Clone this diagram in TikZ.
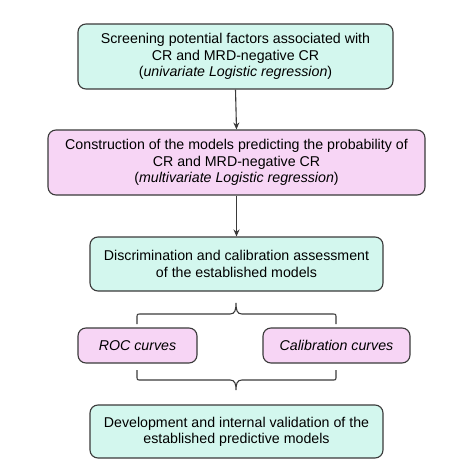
\documentclass[tikz,border=0pt]{standalone}
\usepackage{fontspec}
\setmainfont{Liberation Sans}
\usetikzlibrary{arrows.meta}
\definecolor{mint}{HTML}{D3F7EE}
\definecolor{pinkish}{HTML}{F7D5F5}
\definecolor{edge}{HTML}{3A3A3A}
\begin{document}
\begin{tikzpicture}[x=1pt,y=-1pt,
  boxstyle/.style={draw=edge,line width=1.1pt,rounded corners=8pt,align=center,inner sep=0pt,font=\fontsize{14.2}{16.2}\selectfont},
  mintbox/.style={boxstyle,fill=mint},
  pinkbox/.style={boxstyle,fill=pinkish},
  conn/.style={draw=edge,line width=1.1pt,-{Stealth[length=7pt,width=6pt]}},
  bracestyle/.style={draw=edge,line width=1.1pt}]
\useasboundingbox (0,0) rectangle (474,474);
\node[mintbox,minimum width=315pt,minimum height=65pt] (b1) at (235.5,56.5)
  {Screening potential factors associated with\\CR and MRD-negative CR\\(\textit{univariate Logistic regression})};
\node[pinkbox,minimum width=377pt,minimum height=65pt] (b2) at (236.5,162.5)
  {Construction of the models predicting the probability of\\CR and MRD-negative CR\\(\textit{multivariate Logistic regression})};
\node[mintbox,minimum width=293pt,minimum height=54pt] (b3) at (236.5,264)
  {Discrimination and calibration assessment\\of the established models};
\node[pinkbox,minimum width=119pt,minimum height=35pt] (roc) at (137.5,345.5)
  {\textit{ROC curves}};
\node[pinkbox,minimum width=147pt,minimum height=35pt] (cal) at (336.5,345.5)
  {\textit{Calibration curves}};
\node[mintbox,minimum width=293pt,minimum height=53pt] (b5) at (236.5,431.5)
  {Development and internal validation of the\\established predictive models};
\draw[conn] (b1.south) -- (b2.north);
\draw[conn] (b2.south) -- (b3.north);
% top brace
\coordinate (t0) at (236,303);
\draw[bracestyle] (137,324) -- (137,318) .. controls (137,314) .. (141,314)
  -- (230,314) .. controls (235,314) and (236,310) .. (t0)
  .. controls (236,310) and (237,314) .. (242,314)
  -- (332,314) .. controls (336,314) .. (336,318) -- (336,324);
% bottom brace
\coordinate (u0) at (236,390);
\draw[bracestyle] (137,370) -- (137,376) .. controls (137,380) .. (141,380)
  -- (230,380) .. controls (235,380) and (236,384) .. (u0)
  .. controls (236,384) and (237,380) .. (242,380)
  -- (332,380) .. controls (336,380) .. (336,376) -- (336,370);
\end{tikzpicture}
\end{document}
